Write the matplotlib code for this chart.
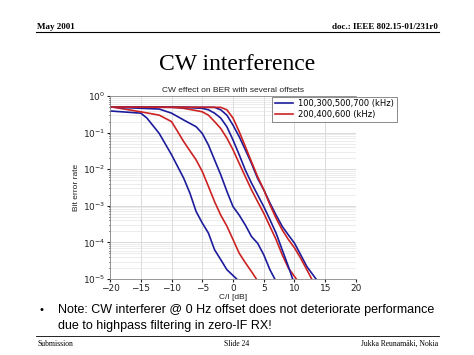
import matplotlib
matplotlib.use("Agg")
import matplotlib.pyplot as plt
from matplotlib.ticker import LogLocator, NullFormatter

# BER curves (C/I in dB, bit error rate)
x_b1 = [-20, -15, -14, -12, -10, -8, -7, -6, -5, -4, -3, -2, -1, 0.6]
ber_b1 = [0.39, 0.34, 0.25, 0.095, 0.025, 5.6e-3, 2.2e-3, 7e-4, 3.4e-4, 1.8e-4, 6.3e-5, 3.4e-5, 1.8e-5, 1e-5]

x_r1 = [-20, -15, -12, -10, -9, -8, -6, -5, -4, -3, -2, -1, 0, 1, 2, 3, 3.8]
ber_r1 = [0.51, 0.37, 0.30, 0.20, 0.107, 0.056, 0.018, 8.7e-3, 3.4e-3, 1.3e-3, 5.6e-4, 2.8e-4, 1.2e-4, 5.1e-5, 2.8e-5, 1.6e-5, 1e-5]

x_b2 = [-20, -12, -10, -8, -6, -5, -4, -3, -2, -1, 0, 1, 2, 3, 4, 5, 6, 6.8]
ber_b2 = [0.5, 0.44, 0.34, 0.22, 0.145, 0.095, 0.046, 0.018, 7.1e-3, 2.5e-3, 9.5e-4, 5.6e-4, 3.0e-4, 1.45e-4, 9.5e-5, 4.6e-5, 1.8e-5, 1e-5]

x_r2 = [-20, -10, -8, -6, -5, -4, -3, -2, -1, 0, 1, 2, 3, 4, 5, 6, 7, 8, 9, 10.3]
ber_r2 = [0.5, 0.49, 0.46, 0.40, 0.37, 0.30, 0.20, 0.13, 0.071, 0.034, 0.0145, 6.3e-3, 2.75e-3, 1.3e-3, 6.3e-4, 2.75e-4, 1.2e-4, 4.6e-5, 2e-5, 1e-5]

x_b3 = [-20, -8, -5, -4, -3, -2, -1, 0, 1, 2, 3, 4, 5, 6, 7, 8, 9, 9.7]
ber_b3 = [0.5, 0.49, 0.46, 0.42, 0.34, 0.25, 0.145, 0.063, 0.025, 9.5e-3, 4.2e-3, 2e-3, 9.5e-4, 4.2e-4, 1.8e-4, 6.3e-5, 2.2e-5, 1e-5]

x_b4 = [-20, -3, -2, -1, 0, 1, 2, 3, 4, 5, 6, 7, 8, 9, 10, 11, 12, 13, 13.5]
ber_b4 = [0.5, 0.49, 0.42, 0.30, 0.16, 0.078, 0.034, 0.0145, 5.6e-3, 2.75e-3, 1.2e-3, 5.6e-4, 2.75e-4, 1.6e-4, 9.5e-5, 4.6e-5, 2.2e-5, 1.3e-5, 1e-5]

x_r3 = [-20, -2, -1, 0, 1, 2, 3, 4, 5, 6, 7, 8, 9, 10, 11, 12, 12.8]
ber_r3 = [0.5, 0.49, 0.42, 0.25, 0.107, 0.042, 0.016, 6.3e-3, 2.75e-3, 1.07e-3, 4.6e-4, 2.2e-4, 1.2e-4, 7.1e-5, 3.7e-5, 1.8e-5, 1e-5]

blue_label = "100,300,500,700 (kHz)"
red_label = "200,400,600 (kHz)"
x_ticks = [-20, -15, -10, -5, 0, 5, 10, 15, 20]

BLUE = "#1c1c9c"
RED = "#cc2222"

fig = plt.figure(figsize=(4.74, 3.55), dpi=100)
W, H = 474.0, 355.0

# slide header / footer
serif = "Liberation Serif"
sans = "Liberation Sans"
fig.text(37 / W, 1 - 27 / H, "May 2001", family=serif, weight="bold", fontsize=6.5, va="center")
fig.text(438 / W, 1 - 27 / H, "doc.: IEEE 802.15-01/231r0", family=serif, weight="bold",
         fontsize=6.5, va="center", ha="right")
fig.add_artist(plt.Line2D([36 / W, 439 / W], [1 - 32 / H, 1 - 32 / H], color="black", lw=0.8))
fig.text(237 / W, 1 - 65 / H, "CW interference", family=serif, fontsize=17, ha="center", va="center")

fig.text(40 / W, 1 - 310 / H, "\u2022", family=sans, fontsize=8, va="center")
fig.text(58 / W, 1 - 310 / H, "Note: CW interferer @ 0 Hz offset does not deteriorate performance",
         family=sans, fontsize=9, va="center")
fig.text(58 / W, 1 - 326 / H, "due to highpass filtering in zero-IF RX!", family=sans, fontsize=9, va="center")

fig.add_artist(plt.Line2D([36 / W, 439 / W], [1 - 336 / H, 1 - 336 / H], color="black", lw=0.6))
fig.text(37 / W, 1 - 344 / H, "Submission", family=serif, fontsize=5.5, va="center")
fig.text(237 / W, 1 - 344 / H, "Slide 24", family=serif, fontsize=5.5, va="center", ha="center")
fig.text(438 / W, 1 - 344 / H, "Jukka Reunam\u00e4ki, Nokia", family=serif, fontsize=5.5, va="center", ha="right")

# the chart
ax = fig.add_axes([110 / W, 1 - 279 / H, (356 - 110) / W, (279 - 96) / H])
ax.semilogy(x_b1, ber_b1, color=BLUE, lw=1.2, label=blue_label)
ax.semilogy(x_r1, ber_r1, color=RED, lw=1.2, label=red_label)
ax.semilogy(x_b2, ber_b2, color=BLUE, lw=1.2)
ax.semilogy(x_r2, ber_r2, color=RED, lw=1.2)
ax.semilogy(x_b3, ber_b3, color=BLUE, lw=1.2)
ax.semilogy(x_b4, ber_b4, color=BLUE, lw=1.2)
ax.semilogy(x_r3, ber_r3, color=RED, lw=1.2)

ax.set_xlim(-20, 20)
ax.set_ylim(1e-5, 1)
ax.set_xticks(x_ticks)
ax.yaxis.set_major_locator(LogLocator(base=10, numticks=10))
ax.yaxis.set_minor_locator(LogLocator(base=10, subs=range(2, 10), numticks=20))
ax.yaxis.set_minor_formatter(NullFormatter())
ax.grid(True, which="major", color="#d4d4d4", lw=0.6)
ax.grid(True, which="minor", axis="y", color="#e4e4e4", lw=0.5)
ax.tick_params(labelsize=6.5, length=2, pad=1.5, colors="#222222")
ax.tick_params(which="minor", length=1)
for s in ax.spines.values():
    s.set_color("#888888")
    s.set_linewidth(0.6)
ax.spines["right"].set_visible(False)

ax.set_title("CW effect on BER with several offsets", fontsize=6, family=sans, pad=3, color="#222222")
ax.set_xlabel("C/I [dB]", fontsize=6, family=sans, labelpad=1, color="#222222")
ax.set_ylabel("Bit error rate", fontsize=6, family=sans, labelpad=2, color="#222222")

leg = ax.legend(loc="upper left", bbox_to_anchor=(0.66, 0.995), fontsize=6, frameon=True,
                fancybox=False, handlelength=2.2, borderpad=0.3, labelspacing=0.2,
                handletextpad=0.6, borderaxespad=0)
leg.get_frame().set_edgecolor("#555555")
leg.get_frame().set_linewidth(0.6)

fig.savefig("out.png", dpi=100)
